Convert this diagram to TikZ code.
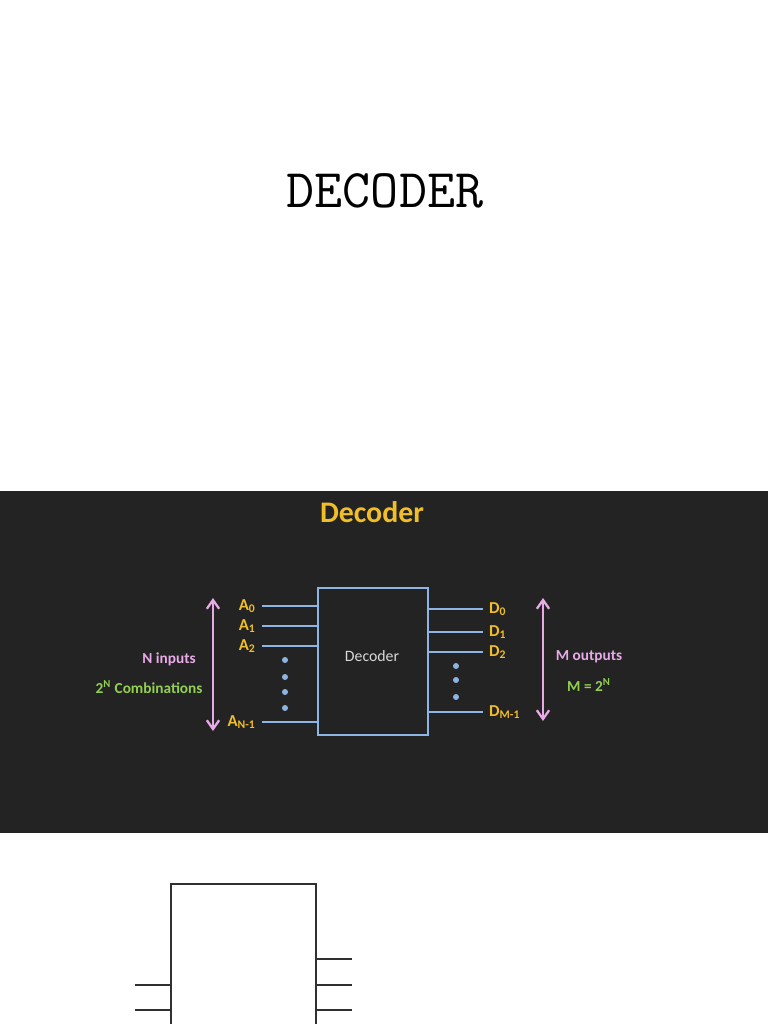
\documentclass[tikz,border=0pt]{standalone}
\usepackage{fontspec}
\setmainfont{Carlito}
\usepackage{xcolor}
\usetikzlibrary{arrows.meta}
\definecolor{panelbg}{HTML}{232323}
\definecolor{gold}{HTML}{F0BE28}
\definecolor{wireblue}{HTML}{8EB4E3}
\definecolor{lilac}{HTML}{E8AAE6}
\definecolor{lime}{HTML}{92D050}
\definecolor{sketch}{HTML}{303030}
\begin{document}
\begin{tikzpicture}[x=0.02cm, y=-0.02cm,
  lbl/.style={text=gold, font=\fontsize{9.5}{11}\selectfont\bfseries},
  wire/.style={draw=wireblue, line width=1.2pt},
  dot/.style={circle, fill=wireblue, inner sep=0pt, minimum size=3.4pt},
  span/.style={draw=lilac, line width=1.3pt, {Straight Barb[length=5pt,width=7pt]}-{Straight Barb[length=5pt,width=7pt]}},
  pinktxt/.style={text=lilac, font=\fontsize{8.7}{10}\selectfont\bfseries},
  greentxt/.style={text=lime, font=\fontsize{8.7}{10}\selectfont\bfseries},
  thin wire/.style={draw=sketch, line width=0.7pt}]
\useasboundingbox (0,0) rectangle (768,1024);
\clip (0,0) rectangle (768,1024);
\fill[white] (0,0) rectangle (768,1024);
\fill[color=panelbg] (0,491) rectangle (768,833);

\node(title) at (385,191) {\ttfamily\fontsize{31}{34}\selectfont DECODER};
\node(head)[text=gold, font=\fontsize{17}{20}\selectfont\bfseries] at (372,512) {Decoder};

\node(dec)[draw=wireblue, line width=1.2pt, minimum width=2.2cm, minimum height=2.94cm] at (373,661.5) {};
\node(decl)[text=white!85!black, font=\fontsize{9}{10}\selectfont] at (372,656) {Decoder};

\node(a0)[lbl, anchor=east] at (262,606) {A\textsubscript{0}};
\node(a1)[lbl, anchor=east] at (262,626) {A\textsubscript{1}};
\node(a2)[lbl, anchor=east] at (262,646) {A\textsubscript{2}};
\node(an)[lbl, anchor=east] at (262,722) {A\textsubscript{N-1}};

\node(d0)[lbl, anchor=west] at (483,609) {D\textsubscript{0}};
\node(d1)[lbl, anchor=west] at (483,632) {D\textsubscript{1}};
\node(d2)[lbl, anchor=west] at (483,652) {D\textsubscript{2}};
\node(dm)[lbl, anchor=west] at (483,712) {D\textsubscript{M-1}};

\node(ld1)[dot] at (285,660) {};
\node(ld2)[dot] at (285,677) {};
\node(ld3)[dot] at (285,692) {};
\node(ld4)[dot] at (285,708) {};
\node(rd1)[dot] at (456,666) {};
\node(rd2)[dot] at (456,680) {};
\node(rd3)[dot] at (456,697) {};

\coordinate(nt) at (213,598);
\coordinate(nb) at (213,731);
\coordinate(mt) at (543,598);
\coordinate(mb) at (543,721);

\node(nin)[pinktxt] at (169,659) {N inputs};
\node(comb)[greentxt] at (149,687) {2\textsuperscript{N} Combinations};
\node(mout)[pinktxt] at (589,657) {M outputs};
\node(meq)[greentxt] at (589,685) {M = 2\textsuperscript{N}};

\draw[wire] (a0.east) -- (dec.west |- a0.east);
\draw[wire] (a1.east) -- (dec.west |- a1.east);
\draw[wire] (a2.east) -- (dec.west |- a2.east);
\draw[wire] (an.east) -- (dec.west |- an.east);
\draw[wire] (dec.east |- d0.west) -- (d0.west);
\draw[wire] (dec.east |- d1.west) -- (d1.west);
\draw[wire] (dec.east |- d2.west) -- (d2.west);
\draw[wire] (dec.east |- dm.west) -- (dm.west);
\draw[span] (nt) -- (nb);
\draw[span] (mt) -- (mb);

\node(blk)[thin wire, minimum width=2.9cm, minimum height=6cm] at (243.5,1034) {};
\coordinate(i0) at (135,985);
\coordinate(i1) at (135,1010);
\coordinate(o0) at (352,959);
\coordinate(o1) at (352,985);
\coordinate(o2) at (352,1010);
\draw[thin wire] (i0) -- (blk.west |- i0);
\draw[thin wire] (i1) -- (blk.west |- i1);
\draw[thin wire] (blk.east |- o0) -- (o0);
\draw[thin wire] (blk.east |- o1) -- (o1);
\draw[thin wire] (blk.east |- o2) -- (o2);
\end{tikzpicture}
\end{document}
